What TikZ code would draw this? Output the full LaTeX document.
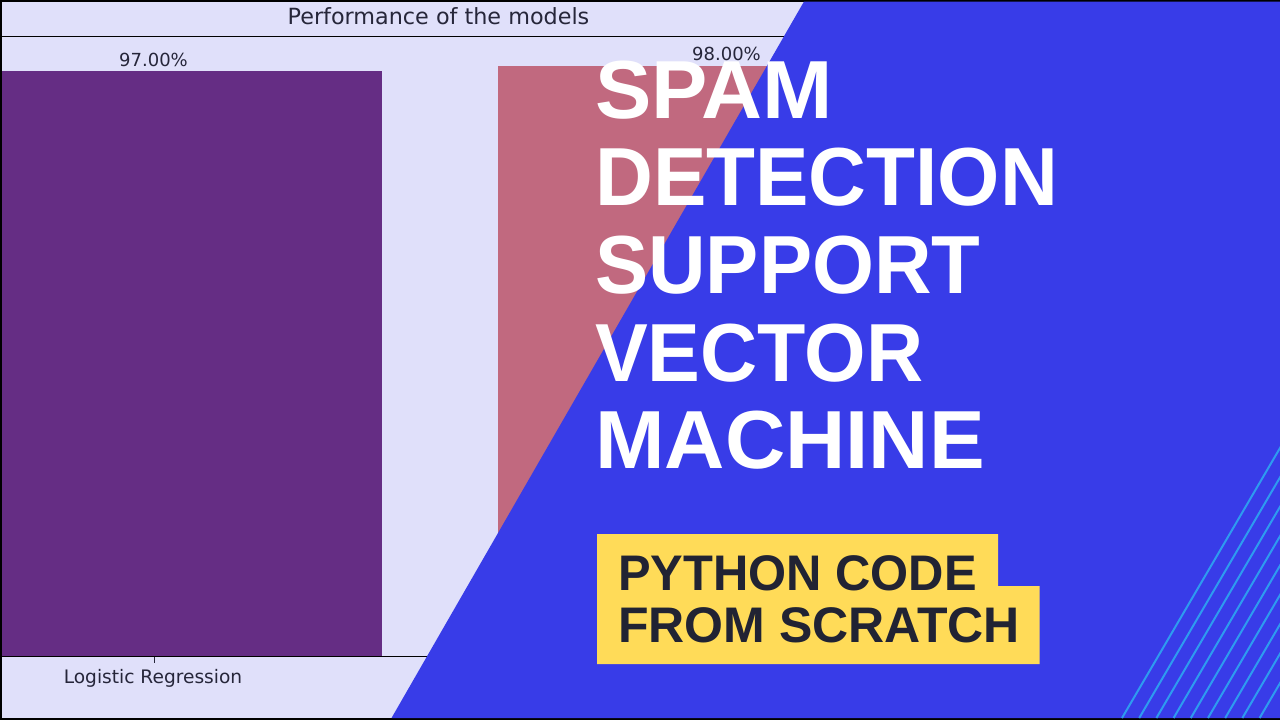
\documentclass[tikz,border=0pt]{standalone}
\usepackage{fontspec}
\setmainfont{Liberation Sans}
\newfontfamily\chartfont{DejaVu Sans}
\definecolor{bgpanel}{HTML}{E0E0FA}
\definecolor{barpurple}{HTML}{652D84}
\definecolor{barpink}{HTML}{C1697F}
\definecolor{bandblue}{HTML}{383CE8}
\definecolor{stripe}{HTML}{2E9BF0}
\definecolor{tagyellow}{HTML}{FFDB58}
\definecolor{tagtext}{HTML}{212333}
\definecolor{charttext}{HTML}{26263A}
\tikzset{
  charttitle/.style={inner sep=0pt,anchor=base,font=\chartfont\fontsize{22.3}{26}\selectfont,text=charttext},
  chartlabel/.style={inner sep=0pt,anchor=base,font=\chartfont\fontsize{18}{22}\selectfont,text=charttext},
  ticklabel/.style={inner sep=0pt,anchor=base,font=\chartfont\fontsize{18.6}{22}\selectfont,text=charttext},
  headline/.style={inner sep=0pt,anchor=base west,transform shape,font=\bfseries\fontsize{82.4}{88}\selectfont,text=white},
  taglabel/.style={inner sep=0pt,anchor=base west,transform shape,font=\bfseries\fontsize{50}{52}\selectfont,text=tagtext},
  stripeline/.style={draw=stripe,line width=2pt},
  axisline/.style={draw=black,line width=1.4pt}
}
\begin{document}
\begin{tikzpicture}[x=1pt,y=-1pt]
\useasboundingbox (0,0) rectangle (1280,720);
\fill[black] (0,0) rectangle (1280,720);
\fill[bgpanel] (2,1.5) rectangle (1280,718);
% bars
\fill[barpurple] (2,71) rectangle (382,656);
\fill[barpink] (497.5,66) rectangle (800,640);
% axes
\draw[axisline] (2,36.5) -- (800,36.5);
\draw[axisline] (2,656.5) -- (500,656.5);
\draw[draw=charttext,line width=1pt] (154,657) -- (154,663);
% chart texts
\node[charttitle] (title) at (438.5,24) {Performance of the models};
\node[chartlabel] (lblA) at (153.5,66) {97.00\%};
\node[chartlabel] (lblB) at (726.5,60) {98.00\%};
\node[ticklabel] (tickA) at (153,683) {Logistic Regression};
% blue band
\fill[bandblue] (804,1.5) -- (1280,1.5) -- (1280,718) -- (391.5,718) -- cycle;
% stripes
\begin{scope}
\clip (1100,440) rectangle (1280,718);
\foreach \i in {0,...,8}{
  \draw[stripeline] ({1122+17.2*\i},718) -- ({1122+17.2*\i+180},{718-307.6});
}
\end{scope}
% headline
\node[headline,xscale=1.025] (h1) at (595,118) {SPAM};
\node[headline,xscale=0.972] (h2) at (595,205.7) {DETECTION};
\node[headline,xscale=0.967] (h3) at (595,293.4) {SUPPORT};
\node[headline,xscale=0.96] (h4) at (595,381.1) {VECTOR};
\node[headline,xscale=1.013] (h5) at (595,468.8) {MACHINE};
% tag
\fill[tagyellow] (597,534) -- (998,534) -- (998,586) -- (1039.5,586) -- (1039.5,664) -- (597,664) -- cycle;
\node[taglabel,xscale=0.978] (t1) at (618,590) {PYTHON CODE};
\node[taglabel] (t2) at (618,642) {FROM SCRATCH};
\end{tikzpicture}
\end{document}
